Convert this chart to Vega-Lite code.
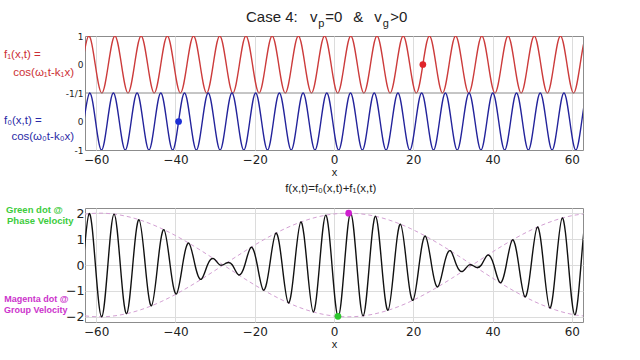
{
 "$schema": "https://vega.github.io/schema/vega-lite/v6.json",
 "padding": {"left": 3, "top": 9, "right": 5, "bottom": 5},
 "bounds": "flush",
 "spacing": 58,
 "config": {
  "font": "DejaVu Sans",
  "view": {"stroke": "#8c8c8c", "strokeWidth": 1},
  "axis": {"ticks": false, "domain": false, "gridColor": "#dcdcdc", "gridWidth": 1, "labelFont": "DejaVu Sans", "labelColor": "#222222", "labelFlush": false, "labelOverlap": false, "labelBound": false, "titleFont": "Liberation Sans", "titleFontWeight": "normal", "titleColor": "#222222"}
 },
 "vconcat": [
  {
   "width": 498, "height": 114,
   "resolve": {"scale": {"y": "independent"}},
   "layer": [
    {"layer": [
     {"data": {"values": [
      {"x":-65.209,"v":-1},{"x":-63.555,"v":0},{"x":-61.902,"v":1},{"x":-60.248,"v":0},{"x":-58.595,"v":-1},{"x":-56.941,"v":0},{"x":-55.288,"v":1},{"x":-53.634,"v":0},{"x":-51.981,"v":-1},{"x":-50.328,"v":0},{"x":-48.674,"v":1},{"x":-47.021,"v":0},{"x":-45.367,"v":-1},{"x":-43.714,"v":0},{"x":-42.060,"v":1},{"x":-40.407,"v":0},{"x":-38.753,"v":-1},{"x":-37.100,"v":0},{"x":-35.446,"v":1},{"x":-33.793,"v":0},{"x":-32.139,"v":-1},{"x":-30.486,"v":0},{"x":-28.832,"v":1},{"x":-27.179,"v":0},{"x":-25.525,"v":-1},{"x":-23.872,"v":0},{"x":-22.219,"v":1},{"x":-20.565,"v":0},{"x":-18.912,"v":-1},{"x":-17.258,"v":0},{"x":-15.605,"v":1},{"x":-13.951,"v":0},{"x":-12.298,"v":-1},{"x":-10.644,"v":0},{"x":-8.991,"v":1},{"x":-7.337,"v":0},{"x":-5.684,"v":-1},{"x":-4.031,"v":0},{"x":-2.377,"v":1},{"x":-0.724,"v":0},{"x":0.930,"v":-1},{"x":2.584,"v":0},{"x":4.237,"v":1},{"x":5.890,"v":0},{"x":7.544,"v":-1},{"x":9.197,"v":0},{"x":10.851,"v":1},{"x":12.504,"v":0},{"x":14.158,"v":-1},{"x":15.811,"v":0},{"x":17.465,"v":1},{"x":19.118,"v":0},{"x":20.772,"v":-1},{"x":22.425,"v":0},{"x":24.079,"v":1},{"x":25.732,"v":0},{"x":27.386,"v":-1},{"x":29.039,"v":0},{"x":30.693,"v":1},{"x":32.346,"v":0},{"x":34.000,"v":-1},{"x":35.653,"v":0},{"x":37.306,"v":1},{"x":38.960,"v":0},{"x":40.613,"v":-1},{"x":42.267,"v":0},{"x":43.920,"v":1},{"x":45.574,"v":0},{"x":47.227,"v":-1},{"x":48.881,"v":0},{"x":50.534,"v":1},{"x":52.188,"v":0},{"x":53.841,"v":-1},{"x":55.495,"v":0},{"x":57.148,"v":1},{"x":58.802,"v":0},{"x":60.455,"v":-1},{"x":62.108,"v":0},{"x":63.762,"v":1},{"x":65.415,"v":0}
     ]},
      "mark": {"type": "line", "interpolate": "natural", "clip": true, "color": "#cc3b3b", "strokeWidth": 1.4},
      "encoding": {
       "x": {"field": "x", "type": "quantitative", "scale": {"domain": [-62.832, 62.832], "nice": false, "zero": false}, "axis": {"values": [-60,-40,-20,0,20,40,60], "tickCount": 20, "format": "d", "title": "x", "grid": true, "labelFontSize": 12, "labelPadding": 4, "titleFontSize": 11, "titlePadding": 1, "labelOverlap": false}},
       "y": {"field": "v", "type": "quantitative", "scale": {"domain": [-3, 1], "nice": false, "zero": false}, "axis": {"values": [-3,-2,-1,0,1], "tickCount": 20, "title": null, "grid": false, "labelFontSize": 9, "labelPadding": 2, "labelOverlap": false, "labelBound": false, "labelExpr": "datum.value == 1 ? '1' : datum.value == 0 ? '0' : datum.value == -1 ? '-1/1' : datum.value == -2 ? '0' : '-1'"}}
      }},
     {"data": {"values": [{}]}, "mark": {"type": "rule", "color": "#8c8c8c", "strokeWidth": 1}, "encoding": {"y": {"datum": -1, "type": "quantitative"}}},
     {"data": {"values": [{"x": 22.425, "v": 0}]}, "mark": {"type": "circle", "size": 45, "color": "#e0252a", "opacity": 1}, "encoding": {"x": {"field": "x", "type": "quantitative"}, "y": {"field": "v", "type": "quantitative"}}},
     {"data": {"values": [{}]}, "mark": {"type": "text", "text": "Case 4:", "font": "Liberation Sans", "fontSize": 15, "align": "left", "baseline": "alphabetic", "color": "#222222"}, "encoding": {"x": {"datum": -22.20, "type": "quantitative"}, "y": {"datum": 1.502, "type": "quantitative"}}},
     {"data": {"values": [{}]}, "mark": {"type": "text", "text": "v", "font": "Liberation Sans", "fontSize": 15, "align": "left", "baseline": "alphabetic", "color": "#222222"}, "encoding": {"x": {"datum": -6.06, "type": "quantitative"}, "y": {"datum": 1.502, "type": "quantitative"}}},
     {"data": {"values": [{}]}, "mark": {"type": "text", "text": "p", "font": "Liberation Sans", "fontSize": 11, "align": "left", "baseline": "alphabetic", "color": "#222222"}, "encoding": {"x": {"datum": -3.96, "type": "quantitative"}, "y": {"datum": 1.305, "type": "quantitative"}}},
     {"data": {"values": [{}]}, "mark": {"type": "text", "text": "=0", "font": "Liberation Sans", "fontSize": 15, "align": "left", "baseline": "alphabetic", "color": "#222222"}, "encoding": {"x": {"datum": -2.19, "type": "quantitative"}, "y": {"datum": 1.502, "type": "quantitative"}}},
     {"data": {"values": [{}]}, "mark": {"type": "text", "text": "&", "font": "Liberation Sans", "fontSize": 15, "align": "left", "baseline": "alphabetic", "color": "#222222"}, "encoding": {"x": {"datum": 4.87, "type": "quantitative"}, "y": {"datum": 1.502, "type": "quantitative"}}},
     {"data": {"values": [{}]}, "mark": {"type": "text", "text": "v", "font": "Liberation Sans", "fontSize": 15, "align": "left", "baseline": "alphabetic", "color": "#222222"}, "encoding": {"x": {"datum": 10.17, "type": "quantitative"}, "y": {"datum": 1.502, "type": "quantitative"}}},
     {"data": {"values": [{}]}, "mark": {"type": "text", "text": "g", "font": "Liberation Sans", "fontSize": 11, "align": "left", "baseline": "alphabetic", "color": "#222222"}, "encoding": {"x": {"datum": 12.29, "type": "quantitative"}, "y": {"datum": 1.305, "type": "quantitative"}}},
     {"data": {"values": [{}]}, "mark": {"type": "text", "text": ">0", "font": "Liberation Sans", "fontSize": 15, "align": "left", "baseline": "alphabetic", "color": "#222222"}, "encoding": {"x": {"datum": 14.21, "type": "quantitative"}, "y": {"datum": 1.502, "type": "quantitative"}}},
     {"data": {"values": [{}]}, "mark": {"type": "text", "text": "f₁(x,t) =", "font": "Liberation Sans", "fontSize": 11.5, "align": "left", "baseline": "middle", "color": "#cc2f35"}, "encoding": {"x": {"datum": -83.27, "type": "quantitative"}, "y": {"datum": 0.333, "type": "quantitative"}}},
     {"data": {"values": [{}]}, "mark": {"type": "text", "text": "cos(ω₁t-k₁x)", "font": "Liberation Sans", "fontSize": 11.5, "align": "right", "baseline": "middle", "color": "#cc2f35"}, "encoding": {"x": {"datum": -65.61, "type": "quantitative"}, "y": {"datum": -0.281, "type": "quantitative"}}},
     {"data": {"values": [{}]}, "mark": {"type": "text", "text": "f₀(x,t) =", "font": "Liberation Sans", "fontSize": 11.5, "align": "left", "baseline": "middle", "color": "#2a2aa6"}, "encoding": {"x": {"datum": -83.27, "type": "quantitative"}, "y": {"datum": -1.965, "type": "quantitative"}}},
     {"data": {"values": [{}]}, "mark": {"type": "text", "text": "cos(ω₀t-k₀x)", "font": "Liberation Sans", "fontSize": 11.5, "align": "right", "baseline": "middle", "color": "#2a2aa6"}, "encoding": {"x": {"datum": -65.61, "type": "quantitative"}, "y": {"datum": -2.561, "type": "quantitative"}}}
    ]},
    {"layer": [
     {"data": {"values": [
      {"x":-64.649,"v":-1},{"x":-63.153,"v":0},{"x":-61.657,"v":1},{"x":-60.161,"v":0},{"x":-58.665,"v":-1},{"x":-57.169,"v":0},{"x":-55.673,"v":1},{"x":-54.177,"v":0},{"x":-52.681,"v":-1},{"x":-51.185,"v":0},{"x":-49.689,"v":1},{"x":-48.193,"v":0},{"x":-46.697,"v":-1},{"x":-45.201,"v":0},{"x":-43.705,"v":1},{"x":-42.209,"v":0},{"x":-40.713,"v":-1},{"x":-39.217,"v":0},{"x":-37.721,"v":1},{"x":-36.225,"v":0},{"x":-34.729,"v":-1},{"x":-33.233,"v":0},{"x":-31.737,"v":1},{"x":-30.241,"v":0},{"x":-28.745,"v":-1},{"x":-27.249,"v":0},{"x":-25.753,"v":1},{"x":-24.257,"v":0},{"x":-22.761,"v":-1},{"x":-21.265,"v":0},{"x":-19.769,"v":1},{"x":-18.273,"v":0},{"x":-16.777,"v":-1},{"x":-15.281,"v":0},{"x":-13.785,"v":1},{"x":-12.289,"v":0},{"x":-10.793,"v":-1},{"x":-9.297,"v":0},{"x":-7.801,"v":1},{"x":-6.305,"v":0},{"x":-4.809,"v":-1},{"x":-3.313,"v":0},{"x":-1.817,"v":1},{"x":-0.321,"v":0},{"x":1.175,"v":-1},{"x":2.671,"v":0},{"x":4.167,"v":1},{"x":5.663,"v":0},{"x":7.159,"v":-1},{"x":8.655,"v":0},{"x":10.151,"v":1},{"x":11.647,"v":0},{"x":13.143,"v":-1},{"x":14.639,"v":0},{"x":16.135,"v":1},{"x":17.631,"v":0},{"x":19.127,"v":-1},{"x":20.623,"v":0},{"x":22.119,"v":1},{"x":23.615,"v":0},{"x":25.111,"v":-1},{"x":26.607,"v":0},{"x":28.103,"v":1},{"x":29.599,"v":0},{"x":31.095,"v":-1},{"x":32.591,"v":0},{"x":34.087,"v":1},{"x":35.583,"v":0},{"x":37.079,"v":-1},{"x":38.575,"v":0},{"x":40.071,"v":1},{"x":41.567,"v":0},{"x":43.063,"v":-1},{"x":44.559,"v":0},{"x":46.055,"v":1},{"x":47.551,"v":0},{"x":49.047,"v":-1},{"x":50.543,"v":0},{"x":52.039,"v":1},{"x":53.535,"v":0},{"x":55.031,"v":-1},{"x":56.527,"v":0},{"x":58.023,"v":1},{"x":59.519,"v":0},{"x":61.015,"v":-1},{"x":62.511,"v":0},{"x":64.007,"v":1},{"x":65.503,"v":0}
     ]},
      "mark": {"type": "line", "interpolate": "natural", "clip": true, "color": "#23239b", "strokeWidth": 1.4},
      "encoding": {
       "x": {"field": "x", "type": "quantitative"},
       "y": {"field": "v", "type": "quantitative", "scale": {"domain": [-1, 3], "nice": false, "zero": false}, "axis": null}
      }},
     {"data": {"values": [{"x": -39.217, "v": 0}]}, "mark": {"type": "circle", "size": 45, "color": "#1c2fd6", "opacity": 1}, "encoding": {"x": {"field": "x", "type": "quantitative"}, "y": {"field": "v", "type": "quantitative", "axis": null}}}
    ]}
   ]
  },
  {
   "width": 498, "height": 114,
   "layer": [
    {"data": {"values": [
     {"x":-64.568,"v":-1.932,"s":"a"},{"x":-59.332,"v":-2,"s":"a"},{"x":-54.096,"v":-1.932,"s":"a"},{"x":-48.860,"v":-1.732,"s":"a"},{"x":-43.624,"v":-1.414,"s":"a"},{"x":-38.388,"v":-1,"s":"a"},{"x":-33.152,"v":-0.518,"s":"a"},{"x":-27.916,"v":0,"s":"a"},{"x":-22.680,"v":0.518,"s":"a"},{"x":-17.444,"v":1,"s":"a"},{"x":-12.208,"v":1.414,"s":"a"},{"x":-6.972,"v":1.732,"s":"a"},{"x":-1.736,"v":1.932,"s":"a"},{"x":3.500,"v":2,"s":"a"},{"x":8.736,"v":1.932,"s":"a"},{"x":13.972,"v":1.732,"s":"a"},{"x":19.208,"v":1.414,"s":"a"},{"x":24.444,"v":1,"s":"a"},{"x":29.680,"v":0.518,"s":"a"},{"x":34.916,"v":0,"s":"a"},{"x":40.152,"v":-0.518,"s":"a"},{"x":45.388,"v":-1,"s":"a"},{"x":50.624,"v":-1.414,"s":"a"},{"x":55.860,"v":-1.732,"s":"a"},{"x":61.096,"v":-1.932,"s":"a"},{"x":66.332,"v":-2,"s":"a"},
     {"x":-64.568,"v":1.932,"s":"b"},{"x":-59.332,"v":2,"s":"b"},{"x":-54.096,"v":1.932,"s":"b"},{"x":-48.860,"v":1.732,"s":"b"},{"x":-43.624,"v":1.414,"s":"b"},{"x":-38.388,"v":1,"s":"b"},{"x":-33.152,"v":0.518,"s":"b"},{"x":-27.916,"v":0,"s":"b"},{"x":-22.680,"v":-0.518,"s":"b"},{"x":-17.444,"v":-1,"s":"b"},{"x":-12.208,"v":-1.414,"s":"b"},{"x":-6.972,"v":-1.732,"s":"b"},{"x":-1.736,"v":-1.932,"s":"b"},{"x":3.500,"v":-2,"s":"b"},{"x":8.736,"v":-1.932,"s":"b"},{"x":13.972,"v":-1.732,"s":"b"},{"x":19.208,"v":-1.414,"s":"b"},{"x":24.444,"v":-1,"s":"b"},{"x":29.680,"v":-0.518,"s":"b"},{"x":34.916,"v":0,"s":"b"},{"x":40.152,"v":0.518,"s":"b"},{"x":45.388,"v":1,"s":"b"},{"x":50.624,"v":1.414,"s":"b"},{"x":55.860,"v":1.732,"s":"b"},{"x":61.096,"v":1.932,"s":"b"},{"x":66.332,"v":2,"s":"b"}
    ]},
     "mark": {"type": "line", "interpolate": "natural", "clip": true, "color": "#d3a0d3", "strokeWidth": 1, "strokeDash": [4, 3]},
     "encoding": {
      "x": {"field": "x", "type": "quantitative", "scale": {"domain": [-62.832, 62.832], "nice": false, "zero": false}, "axis": {"values": [-60,-40,-20,0,20,40,60], "tickCount": 20, "format": "d", "title": "x", "grid": true, "labelFontSize": 12, "labelPadding": 4, "titleFontSize": 11, "titlePadding": 1, "labelOverlap": false}},
      "y": {"field": "v", "type": "quantitative", "scale": {"domain": [-2.2, 2.2], "nice": false, "zero": false}, "axis": {"values": [-2,-1,0,1,2], "tickCount": 20, "format": "d", "title": null, "grid": true, "labelFontSize": 12.5, "labelPadding": 1, "labelOverlap": false, "labelBound": false}},
      "detail": {"field": "s", "type": "nominal"}
     }},
    {"data": {"values": [
     {"x":-64.915,"v":-1.923},{"x":-63.344,"v":0},{"x":-61.774,"v":1.985},{"x":-60.203,"v":0},{"x":-58.632,"v":-1.999},{"x":-57.061,"v":0},{"x":-55.490,"v":1.963},{"x":-53.920,"v":0},{"x":-52.349,"v":-1.879},{"x":-50.778,"v":0},{"x":-49.207,"v":1.749},{"x":-47.636,"v":0},{"x":-46.066,"v":-1.576},{"x":-44.495,"v":0},{"x":-42.924,"v":1.364},{"x":-41.353,"v":0},{"x":-39.782,"v":-1.118},{"x":-38.212,"v":0},{"x":-36.641,"v":0.845},{"x":-35.070,"v":0},{"x":-33.499,"v":-0.551},{"x":-31.929,"v":0},{"x":-30.358,"v":0.244},{"x":-28.787,"v":0},{"x":-27.216,"v":0.070},{"x":-25.645,"v":0},{"x":-24.074,"v":-0.382},{"x":-22.504,"v":0},{"x":-20.933,"v":0.684},{"x":-19.362,"v":0},{"x":-17.791,"v":-0.970},{"x":-16.221,"v":0},{"x":-14.650,"v":1.231},{"x":-13.079,"v":0},{"x":-11.508,"v":-1.463},{"x":-9.937,"v":0},{"x":-8.366,"v":1.658},{"x":-6.796,"v":0},{"x":-5.225,"v":-1.813},{"x":-3.654,"v":0},{"x":-2.083,"v":1.923},{"x":-0.512,"v":0},{"x":1.058,"v":-1.985},{"x":2.629,"v":0},{"x":4.200,"v":1.999},{"x":5.771,"v":0},{"x":7.342,"v":-1.963},{"x":8.912,"v":0},{"x":10.483,"v":1.879},{"x":12.054,"v":0},{"x":13.625,"v":-1.749},{"x":15.196,"v":0},{"x":16.766,"v":1.576},{"x":18.337,"v":0},{"x":19.908,"v":-1.364},{"x":21.479,"v":0},{"x":23.050,"v":1.118},{"x":24.620,"v":0},{"x":26.191,"v":-0.845},{"x":27.762,"v":0},{"x":29.333,"v":0.551},{"x":30.903,"v":0},{"x":32.474,"v":-0.244},{"x":34.045,"v":0},{"x":35.616,"v":-0.070},{"x":37.187,"v":0},{"x":38.758,"v":0.382},{"x":40.328,"v":0},{"x":41.899,"v":-0.684},{"x":43.470,"v":0},{"x":45.041,"v":0.970},{"x":46.612,"v":0},{"x":48.182,"v":-1.231},{"x":49.753,"v":0},{"x":51.324,"v":1.463},{"x":52.895,"v":0},{"x":54.465,"v":-1.658},{"x":56.036,"v":0},{"x":57.607,"v":1.813},{"x":59.178,"v":0},{"x":60.749,"v":-1.923},{"x":62.319,"v":0},{"x":63.890,"v":1.985},{"x":65.461,"v":0},{"x":67.032,"v":-1.999}
    ]},
     "mark": {"type": "line", "interpolate": "natural", "clip": true, "color": "#111111", "strokeWidth": 1.4},
     "encoding": {"x": {"field": "x", "type": "quantitative"}, "y": {"field": "v", "type": "quantitative"}}},
    {"data": {"values": [{"x": 3.7, "v": 2.0}]}, "mark": {"type": "circle", "size": 45, "color": "#d01fd0", "opacity": 1}, "encoding": {"x": {"field": "x", "type": "quantitative"}, "y": {"field": "v", "type": "quantitative"}}},
    {"data": {"values": [{"x": 1.0, "v": -1.98}]}, "mark": {"type": "circle", "size": 45, "color": "#2ec82e", "opacity": 1}, "encoding": {"x": {"field": "x", "type": "quantitative"}, "y": {"field": "v", "type": "quantitative"}}},
    {"data": {"values": [{}]}, "mark": {"type": "text", "text": "f(x,t)=f₀(x,t)+f₁(x,t)", "font": "Liberation Sans", "fontSize": 11.5, "align": "center", "baseline": "middle", "color": "#222222"}, "encoding": {"x": {"datum": -0.83, "type": "quantitative"}, "y": {"datum": 2.933, "type": "quantitative"}}},
    {"data": {"values": [{}]}, "mark": {"type": "text", "text": "Green dot @", "font": "Liberation Sans", "fontSize": 9.5, "fontWeight": "bold", "align": "left", "baseline": "middle", "color": "#3ccc3c"}, "encoding": {"x": {"datum": -82.77, "type": "quantitative"}, "y": {"datum": 2.123, "type": "quantitative"}}},
    {"data": {"values": [{}]}, "mark": {"type": "text", "text": "Phase Velocity", "font": "Liberation Sans", "fontSize": 9.5, "fontWeight": "bold", "align": "left", "baseline": "middle", "color": "#3ccc3c"}, "encoding": {"x": {"datum": -82.51, "type": "quantitative"}, "y": {"datum": 1.706, "type": "quantitative"}}},
    {"data": {"values": [{}]}, "mark": {"type": "text", "text": "Magenta dot @", "font": "Liberation Sans", "fontSize": 9, "fontWeight": "bold", "align": "left", "baseline": "middle", "color": "#cc33cc"}, "encoding": {"x": {"datum": -83.19, "type": "quantitative"}, "y": {"datum": -1.305, "type": "quantitative"}}},
    {"data": {"values": [{}]}, "mark": {"type": "text", "text": "Group Velocity", "font": "Liberation Sans", "fontSize": 9, "fontWeight": "bold", "align": "left", "baseline": "middle", "color": "#cc33cc"}, "encoding": {"x": {"datum": -83.27, "type": "quantitative"}, "y": {"datum": -1.737, "type": "quantitative"}}}
   ]
  }
 ]
}
